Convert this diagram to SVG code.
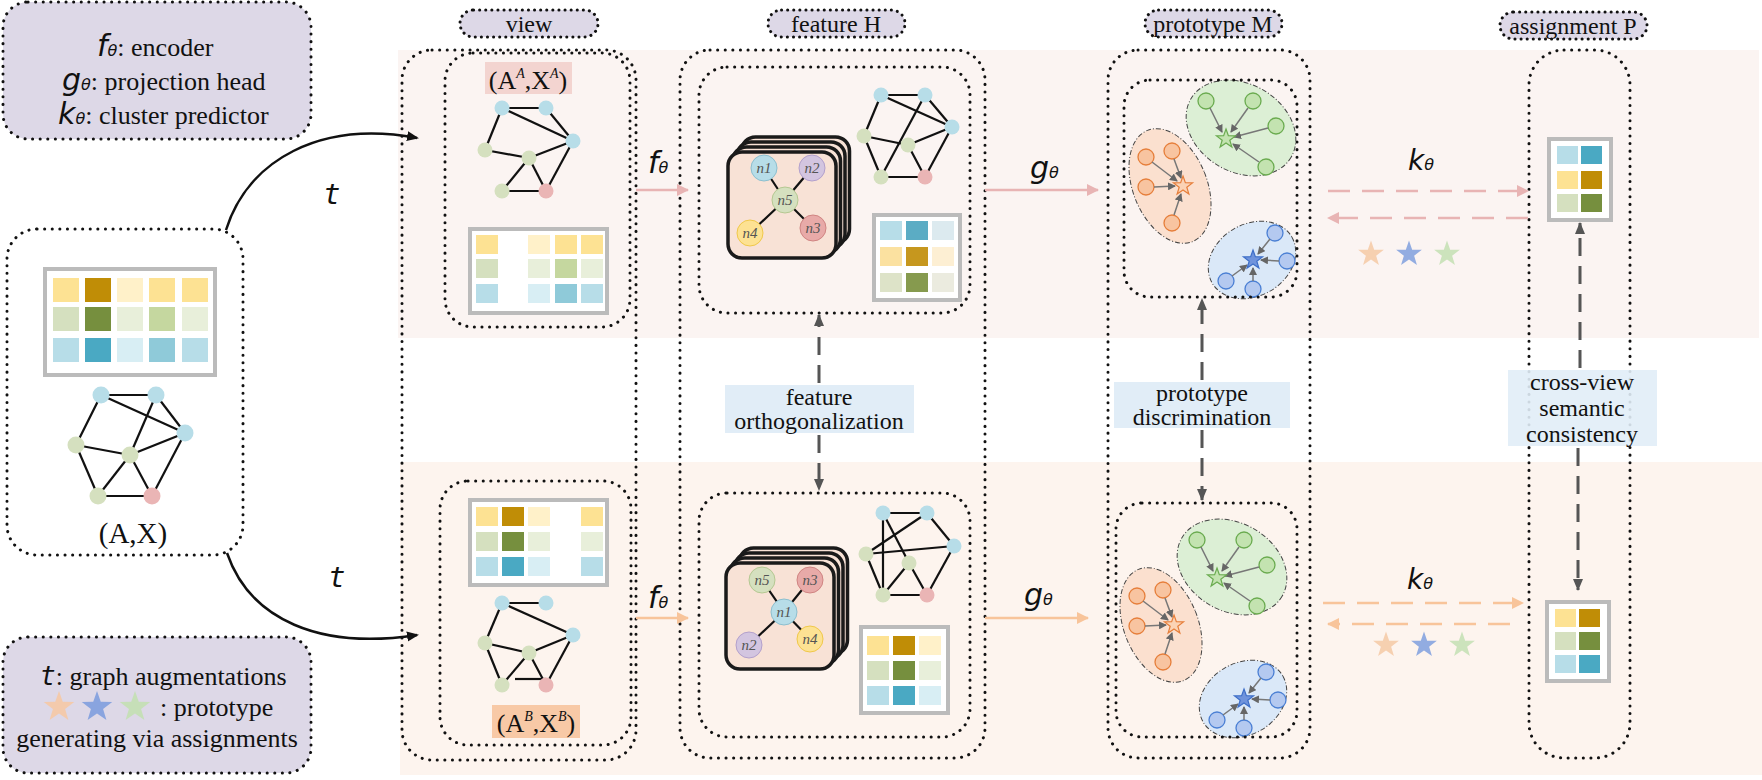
<svg xmlns="http://www.w3.org/2000/svg" xmlns:xlink="http://www.w3.org/1999/xlink" width="1762" height="780" viewBox="0 0 1762 780">
<style>
.dot{fill:none;stroke:#111;stroke-width:3;stroke-dasharray:0.1 7.5;stroke-linecap:round}
.pill{fill:#ddd8e7;stroke:#111;stroke-width:3;stroke-dasharray:0.1 6;stroke-linecap:round}
.leg{fill:#ddd8e7}
.tm{font-family:"Liberation Serif",serif;fill:#111}
.sy{font-family:"DejaVu Sans",sans-serif;font-style:italic;fill:#111}
.mono{font-family:"DejaVu Sans Mono",monospace;font-style:italic;fill:#111}
.ed{stroke:#111;stroke-width:2.2}
.nb{fill:#b7dde8}.ng{fill:#d5e0bf}.np{fill:#eab5b5}
.mx{fill:#fff;stroke:#bbb;stroke-width:4}
.card{fill:#f8e2d6;stroke:#1a1a1a;stroke-width:3.5}
.cn{font-family:"Liberation Serif",serif;font-style:italic;font-size:15px;fill:#555;text-anchor:middle}
.ga{stroke:#777;stroke-width:1.5;marker-end:url(#ag)}
.vd{stroke:#555;stroke-width:3;stroke-dasharray:18 10;fill:none}
.tb{fill:#e1edf7}
</style>
<defs>
<marker id="ag" markerWidth="8" markerHeight="8" refX="7" refY="4" orient="auto" markerUnits="userSpaceOnUse"><path d="M0,0 L8,4 L0,8 Z" fill="#666"/></marker>
<marker id="ap" markerWidth="12" markerHeight="12" refX="11" refY="6" orient="auto" markerUnits="userSpaceOnUse"><path d="M0,0 L12,6 L0,12 Z" fill="#e8b4b4"/></marker>
<marker id="ao" markerWidth="12" markerHeight="12" refX="11" refY="6" orient="auto" markerUnits="userSpaceOnUse"><path d="M0,0 L12,6 L0,12 Z" fill="#f8c49a"/></marker>
<marker id="ad" markerWidth="12" markerHeight="10" refX="11" refY="5" orient="auto" markerUnits="userSpaceOnUse"><path d="M0,0 L12,5 L0,10 Z" fill="#555"/></marker>
<marker id="ak" markerWidth="12" markerHeight="12" refX="10" refY="6" orient="auto" markerUnits="userSpaceOnUse"><path d="M0,1 L12,6 L0,11 Z" fill="#111"/></marker>
<path id="star" d="M0,-10 L2.35,-3.24 L9.51,-3.09 L3.80,1.24 L5.88,8.09 L0,4 L-5.88,8.09 L-3.80,1.24 L-9.51,-3.09 L-2.35,-3.24 Z"/>
<g id="clusters">
 <ellipse cx="1170" cy="186" rx="37" ry="60" transform="rotate(-22 1170 186)" fill="#fbe0cf" stroke="#444" stroke-width="1" stroke-dasharray="5 2 1 2"/>
 <ellipse cx="1241" cy="128" rx="58" ry="44" transform="rotate(30 1241 128)" fill="#dcefd5" stroke="#444" stroke-width="1" stroke-dasharray="5 2 1 2"/>
 <ellipse cx="1252" cy="260" rx="46" ry="36" transform="rotate(-30 1252 260)" fill="#dae8f8" stroke="#444" stroke-width="1" stroke-dasharray="5 2 1 2"/>
 <g fill="#f8c4a0" stroke="#e67e3a" stroke-width="1.3">
  <circle cx="1146" cy="157" r="8"/><circle cx="1172" cy="151" r="8"/><circle cx="1146" cy="187" r="8"/><circle cx="1172" cy="223" r="8"/>
 </g>
 <g fill="#c3e3b0" stroke="#6aab4f" stroke-width="1.3">
  <circle cx="1206" cy="101" r="8"/><circle cx="1253" cy="101" r="8"/><circle cx="1276" cy="126" r="8"/><circle cx="1266" cy="167" r="8"/>
 </g>
 <g fill="#b4c9f0" stroke="#4a7fd4" stroke-width="1.3">
  <circle cx="1275" cy="233" r="8"/><circle cx="1287" cy="261" r="8"/><circle cx="1226" cy="281" r="8"/><circle cx="1253" cy="289" r="8"/>
 </g>
 <line class="ga" x1="1152" y1="162" x2="1177" y2="181"/><line class="ga" x1="1174" y1="159" x2="1181" y2="178"/>
 <line class="ga" x1="1154" y1="187" x2="1175" y2="186"/><line class="ga" x1="1174" y1="215" x2="1181" y2="194"/>
 <line class="ga" x1="1210" y1="108" x2="1222" y2="132"/><line class="ga" x1="1248" y1="108" x2="1231" y2="132"/>
 <line class="ga" x1="1268" y1="128" x2="1234" y2="137"/><line class="ga" x1="1259" y1="162" x2="1233" y2="144"/>
 <line class="ga" x1="1270" y1="239" x2="1258" y2="254"/><line class="ga" x1="1279" y1="261" x2="1261" y2="260"/>
 <line class="ga" x1="1232" y1="276" x2="1247" y2="265"/><line class="ga" x1="1253" y1="281" x2="1253" y2="268"/>
 <use href="#star" transform="translate(1183 186)" fill="#fbd3b5" stroke="#e67e3a" stroke-width="1.2"/>
 <use href="#star" transform="translate(1226 139)" fill="#c3e3b0" stroke="#6aab4f" stroke-width="1.2"/>
 <use href="#star" transform="translate(1253 260)" fill="#6f93dc" stroke="#3d6ec8" stroke-width="1.2"/>
</g>
<g id="card">
 <rect x="13.5" y="-15" width="108" height="106" rx="14" class="card"/>
 <rect x="9" y="-10" width="108" height="106" rx="14" class="card"/>
 <rect x="4.5" y="-5" width="108" height="106" rx="14" class="card"/>
 <rect x="0" y="0" width="108" height="106" rx="14" class="card"/>
</g>
</defs>

<!-- bands -->
<rect x="398" y="50" width="1361" height="288" fill="#fbf4f2"/>
<rect x="400" y="462" width="1362" height="313" fill="#fdf4ee"/>

<!-- legends -->
<g id="legend-top">
 <rect x="3" y="2" width="308" height="137" rx="25" class="leg"/>
 <rect x="3" y="2" width="308" height="137" rx="25" class="dot"/>
 <text x="97" y="56" class="tm" font-size="26"><tspan class="sy" font-size="30">f</tspan><tspan class="sy" font-size="16">θ</tspan>:  encoder</text>
 <text x="62" y="90" class="tm" font-size="26"><tspan class="sy" font-size="30">g</tspan><tspan class="sy" font-size="16">θ</tspan>:  projection head</text>
 <text x="58" y="124" class="tm" font-size="26"><tspan class="sy" font-size="30">k</tspan><tspan class="sy" font-size="16">θ</tspan>:  cluster predictor</text>
</g>
<g id="legend-bottom">
 <rect x="3" y="637" width="308" height="136" rx="25" class="leg"/>
 <rect x="3" y="637" width="308" height="136" rx="25" class="dot"/>
 <text x="40" y="685" class="tm" font-size="26"><tspan class="mono" font-size="26">t</tspan>:  graph augmentations</text>
 <use href="#star" transform="translate(59 707) scale(1.6)" fill="#f5c9a5" opacity="0.9"/>
 <use href="#star" transform="translate(97 707) scale(1.6)" fill="#7f9fde" opacity="0.9"/>
 <use href="#star" transform="translate(135 707) scale(1.6)" fill="#c3e0b3" opacity="0.9"/>
 <text x="160" y="716" class="tm" font-size="26">: prototype</text>
 <text x="157" y="747" class="tm" font-size="26" text-anchor="middle">generating via assignments</text>
</g>

<!-- pills -->
<g id="pill-view"><rect x="460" y="10" width="138" height="27" rx="13.5" class="pill"/><text x="529" y="32" class="tm" font-size="24" text-anchor="middle">view</text></g>
<g id="pill-feature"><rect x="768" y="10" width="137" height="27" rx="13.5" class="pill"/><text x="836" y="32" class="tm" font-size="24" text-anchor="middle">feature H</text></g>
<g id="pill-proto"><rect x="1145" y="10" width="137" height="27" rx="13.5" class="pill"/><text x="1213" y="32" class="tm" font-size="24" text-anchor="middle">prototype M</text></g>
<g id="pill-assign"><rect x="1500" y="12" width="147" height="27" rx="13.5" class="pill"/><text x="1573" y="34" class="tm" font-size="24" text-anchor="middle">assignment P</text></g>

<!-- input graph -->
<g id="input-AX">
 <rect x="7" y="229" width="236" height="326" rx="30" class="dot"/>
 <rect x="45" y="269" width="170" height="106" class="mx"/>
 <g>
  <rect x="53" y="278" width="26" height="24" fill="#fde293"/><rect x="85" y="278" width="26" height="24" fill="#c08d06"/><rect x="117" y="278" width="26" height="24" fill="#fff1c9"/><rect x="149" y="278" width="26" height="24" fill="#fde293"/><rect x="182" y="278" width="26" height="24" fill="#fde293"/>
  <rect x="53" y="307" width="26" height="24" fill="#d5e0bf"/><rect x="85" y="307" width="26" height="24" fill="#768f3e"/><rect x="117" y="307" width="26" height="24" fill="#e8efda"/><rect x="149" y="307" width="26" height="24" fill="#c5d79f"/><rect x="182" y="307" width="26" height="24" fill="#e8efda"/>
  <rect x="53" y="338" width="26" height="24" fill="#b7dde8"/><rect x="85" y="338" width="26" height="24" fill="#4aa9c3"/><rect x="117" y="338" width="26" height="24" fill="#d8eef4"/><rect x="149" y="338" width="26" height="24" fill="#8fcad9"/><rect x="182" y="338" width="26" height="24" fill="#b7dde8"/>
 </g>
 <g class="ed">
  <line x1="101" y1="395" x2="156" y2="395"/><line x1="101" y1="395" x2="185" y2="433"/><line x1="156" y1="395" x2="130" y2="455"/><line x1="156" y1="395" x2="185" y2="433"/>
  <line x1="101" y1="395" x2="76" y2="445"/><line x1="76" y1="445" x2="130" y2="455"/><line x1="130" y1="455" x2="185" y2="433"/><line x1="76" y1="445" x2="98" y2="496"/>
  <line x1="130" y1="455" x2="98" y2="496"/><line x1="130" y1="455" x2="152" y2="496"/><line x1="98" y1="496" x2="152" y2="496"/><line x1="185" y1="433" x2="152" y2="496"/>
 </g>
 <circle cx="101" cy="395" r="8.5" class="nb"/><circle cx="156" cy="395" r="8.5" class="nb"/><circle cx="185" cy="433" r="8.5" class="nb"/>
 <circle cx="76" cy="445" r="8.5" class="ng"/><circle cx="130" cy="455" r="8.5" class="ng"/><circle cx="98" cy="496" r="8.5" class="ng"/><circle cx="152" cy="496" r="8.5" class="np"/>
 <text x="133" y="543" class="tm" font-size="29" text-anchor="middle">(A,X)</text>
</g>

<!-- view column -->
<g id="view">
 <rect x="402" y="50" width="234" height="710" rx="30" class="dot"/>
 <rect x="445" y="53" width="185" height="274" rx="28" class="dot"/>
 <rect x="485" y="62" width="87" height="32" fill="#f3d4d0"/>
 <text x="528" y="89" class="tm" font-size="26" text-anchor="middle">(A<tspan font-size="14" font-style="italic" dy="-11">A</tspan><tspan dy="11">,X</tspan><tspan font-size="14" font-style="italic" dy="-11">A</tspan><tspan dy="11">)</tspan></text>
 <g class="ed">
  <line x1="502" y1="108" x2="546" y2="108"/><line x1="502" y1="108" x2="573" y2="141"/><line x1="546" y1="108" x2="573" y2="141"/><line x1="502" y1="108" x2="485" y2="150"/>
  <line x1="485" y1="150" x2="529" y2="158"/><line x1="529" y1="158" x2="573" y2="141"/><line x1="529" y1="158" x2="502" y2="191"/><line x1="529" y1="158" x2="546" y2="191"/>
  <line x1="502" y1="191" x2="546" y2="191"/><line x1="573" y1="141" x2="546" y2="191"/>
 </g>
 <circle cx="502" cy="108" r="7.5" class="nb"/><circle cx="546" cy="108" r="7.5" class="nb"/><circle cx="573" cy="141" r="7.5" class="nb"/>
 <circle cx="485" cy="150" r="7.5" class="ng"/><circle cx="529" cy="158" r="7.5" class="ng"/><circle cx="502" cy="191" r="7.5" class="ng"/><circle cx="546" cy="191" r="7.5" class="np"/>
 <rect x="470" y="229" width="137" height="84" class="mx"/>
 <rect x="476" y="235" width="22" height="19" fill="#fde293"/><rect x="528" y="235" width="22" height="19" fill="#fff1c9"/><rect x="555" y="235" width="22" height="19" fill="#fde293"/><rect x="581" y="235" width="22" height="19" fill="#fde293"/>
 <rect x="476" y="259" width="22" height="19" fill="#d5e0bf"/><rect x="528" y="259" width="22" height="19" fill="#e8efda"/><rect x="555" y="259" width="22" height="19" fill="#c5d79f"/><rect x="581" y="259" width="22" height="19" fill="#e8efda"/>
 <rect x="476" y="284" width="22" height="19" fill="#b7dde8"/><rect x="528" y="284" width="22" height="19" fill="#d8eef4"/><rect x="555" y="284" width="22" height="19" fill="#8fcad9"/><rect x="581" y="284" width="22" height="19" fill="#b7dde8"/>

 <rect x="440" y="481" width="191" height="264" rx="28" class="dot"/>
 <rect x="470" y="500" width="137" height="85" class="mx"/>
 <rect x="476" y="507" width="22" height="19" fill="#fde293"/><rect x="502" y="507" width="22" height="19" fill="#c08d06"/><rect x="528" y="507" width="22" height="19" fill="#fff1c9"/><rect x="581" y="507" width="22" height="19" fill="#fde293"/>
 <rect x="476" y="532" width="22" height="19" fill="#d5e0bf"/><rect x="502" y="532" width="22" height="19" fill="#768f3e"/><rect x="528" y="532" width="22" height="19" fill="#e8efda"/><rect x="581" y="532" width="22" height="19" fill="#e8efda"/>
 <rect x="476" y="557" width="22" height="19" fill="#b7dde8"/><rect x="502" y="557" width="22" height="19" fill="#4aa9c3"/><rect x="528" y="557" width="22" height="19" fill="#d8eef4"/><rect x="581" y="557" width="22" height="19" fill="#b7dde8"/>
 <g class="ed">
  <line x1="502" y1="603" x2="546" y2="603"/><line x1="502" y1="603" x2="573" y2="635"/><line x1="502" y1="603" x2="485" y2="643"/><line x1="485" y1="643" x2="529" y2="653"/>
  <line x1="529" y1="653" x2="573" y2="635"/><line x1="529" y1="653" x2="502" y2="685"/><line x1="529" y1="653" x2="546" y2="685"/><line x1="485" y1="643" x2="502" y2="685"/>
  <line x1="573" y1="635" x2="546" y2="685"/><line x1="515" y1="679" x2="546" y2="679"/>
 </g>
 <circle cx="502" cy="603" r="7.5" class="nb"/><circle cx="546" cy="603" r="7.5" class="nb"/><circle cx="573" cy="635" r="7.5" class="nb"/>
 <circle cx="485" cy="643" r="7.5" class="ng"/><circle cx="529" cy="653" r="7.5" class="ng"/><circle cx="502" cy="685" r="7.5" class="ng"/><circle cx="546" cy="685" r="7.5" class="np"/>
 <rect x="492" y="705" width="88" height="33" fill="#f8c9a6"/>
 <text x="536" y="732" class="tm" font-size="26" text-anchor="middle">(A<tspan font-size="14" font-style="italic" dy="-11">B</tspan><tspan dy="11">,X</tspan><tspan font-size="14" font-style="italic" dy="-11">B</tspan><tspan dy="11">)</tspan></text>
</g>

<!-- feature column -->
<g id="feature">
 <rect x="680" y="50" width="305" height="708" rx="30" class="dot"/>
 <rect x="699" y="67" width="271" height="246" rx="28" class="dot"/>
 <use href="#card" transform="translate(728 152)"/>
 <g class="ed"><line x1="785" y1="200" x2="764" y2="168"/><line x1="785" y1="200" x2="812" y2="168"/><line x1="785" y1="200" x2="750" y2="233"/><line x1="785" y1="200" x2="813" y2="228"/></g>
 <circle cx="764" cy="168" r="13" fill="#b7dde8" stroke="#8cbfcf"/><text x="764" y="173" class="cn">n1</text>
 <circle cx="812" cy="168" r="13" fill="#d3c5e0" stroke="#b3a0cc"/><text x="812" y="173" class="cn">n2</text>
 <circle cx="785" cy="200" r="13" fill="#d5e0bf" stroke="#b5c892"/><text x="785" y="205" class="cn">n5</text>
 <circle cx="750" cy="233" r="13" fill="#fde293" stroke="#f0c84a"/><text x="750" y="238" class="cn">n4</text>
 <circle cx="813" cy="228" r="13" fill="#e8aaa8" stroke="#d08482"/><text x="813" y="233" class="cn">n3</text>
 <g class="ed">
  <line x1="881" y1="95" x2="925" y2="95"/><line x1="881" y1="95" x2="952" y2="127"/><line x1="925" y1="95" x2="881" y2="177"/><line x1="925" y1="95" x2="952" y2="127"/>
  <line x1="881" y1="95" x2="864" y2="136"/><line x1="864" y1="136" x2="908" y2="145"/><line x1="908" y1="145" x2="952" y2="127"/><line x1="864" y1="136" x2="881" y2="177"/>
  <line x1="908" y1="145" x2="925" y2="177"/><line x1="881" y1="177" x2="925" y2="177"/><line x1="952" y1="127" x2="925" y2="177"/>
 </g>
 <circle cx="881" cy="95" r="7.5" class="nb"/><circle cx="925" cy="95" r="7.5" class="nb"/><circle cx="952" cy="127" r="7.5" class="nb"/>
 <circle cx="864" cy="136" r="7.5" class="ng"/><circle cx="908" cy="145" r="7.5" class="ng"/><circle cx="881" cy="177" r="7.5" class="ng"/><circle cx="925" cy="177" r="7.5" class="np"/>
 <rect x="874" y="215" width="86" height="85" class="mx"/>
 <rect x="880" y="221" width="22" height="19" fill="#b7dde8"/><rect x="906" y="221" width="22" height="19" fill="#5bacc4"/><rect x="932" y="221" width="22" height="19" fill="#dceaef"/>
 <rect x="880" y="247" width="22" height="19" fill="#fbe1a0"/><rect x="906" y="247" width="22" height="19" fill="#c6971e"/><rect x="932" y="247" width="22" height="19" fill="#fdefd3"/>
 <rect x="880" y="273" width="22" height="19" fill="#dde3c8"/><rect x="906" y="273" width="22" height="19" fill="#869a4e"/><rect x="932" y="273" width="22" height="19" fill="#ebebdf"/>

 <rect x="699" y="493" width="271" height="244" rx="28" class="dot"/>
 <use href="#card" transform="translate(726 563)"/>
 <g class="ed"><line x1="784" y1="612" x2="762" y2="580"/><line x1="784" y1="612" x2="810" y2="580"/><line x1="784" y1="612" x2="749" y2="645"/><line x1="784" y1="612" x2="810" y2="639"/></g>
 <circle cx="762" cy="580" r="13" fill="#d5e0bf" stroke="#b5c892"/><text x="762" y="585" class="cn">n5</text>
 <circle cx="810" cy="580" r="13" fill="#e8aaa8" stroke="#d08482"/><text x="810" y="585" class="cn">n3</text>
 <circle cx="784" cy="612" r="13" fill="#b7dde8" stroke="#8cbfcf"/><text x="784" y="617" class="cn">n1</text>
 <circle cx="749" cy="645" r="13" fill="#d3c5e0" stroke="#b3a0cc"/><text x="749" y="650" class="cn">n2</text>
 <circle cx="810" cy="639" r="13" fill="#fde293" stroke="#f0c84a"/><text x="810" y="644" class="cn">n4</text>
 <g class="ed">
  <line x1="883" y1="513" x2="927" y2="513"/><line x1="927" y1="513" x2="954" y2="546"/><line x1="866" y1="554" x2="927" y2="513"/><line x1="866" y1="554" x2="954" y2="546"/>
  <line x1="883" y1="513" x2="883" y2="595"/><line x1="883" y1="513" x2="909" y2="563"/><line x1="866" y1="554" x2="883" y2="595"/><line x1="909" y1="563" x2="883" y2="595"/>
  <line x1="909" y1="563" x2="927" y2="595"/><line x1="883" y1="595" x2="927" y2="595"/><line x1="954" y1="546" x2="927" y2="595"/>
 </g>
 <circle cx="883" cy="513" r="7.5" class="nb"/><circle cx="927" cy="513" r="7.5" class="nb"/><circle cx="954" cy="546" r="7.5" class="nb"/>
 <circle cx="866" cy="554" r="7.5" class="ng"/><circle cx="909" cy="563" r="7.5" class="ng"/><circle cx="883" cy="595" r="7.5" class="ng"/><circle cx="927" cy="595" r="7.5" class="np"/>
 <rect x="861" y="627" width="87" height="86" class="mx"/>
 <rect x="867" y="636" width="22" height="19" fill="#fde293"/><rect x="893" y="636" width="22" height="19" fill="#c08d06"/><rect x="919" y="636" width="22" height="19" fill="#fff1c9"/>
 <rect x="867" y="661" width="22" height="19" fill="#d5e0bf"/><rect x="893" y="661" width="22" height="19" fill="#768f3e"/><rect x="919" y="661" width="22" height="19" fill="#e8efda"/>
 <rect x="867" y="686" width="22" height="19" fill="#b7dde8"/><rect x="893" y="686" width="22" height="19" fill="#4aa9c3"/><rect x="919" y="686" width="22" height="19" fill="#d8eef4"/>
</g>

<!-- prototype column -->
<g id="prototype">
 <rect x="1108" y="50" width="202" height="708" rx="30" class="dot"/>
 <use href="#clusters"/>
 <use href="#clusters" transform="translate(-9 439)"/>
 <rect x="1124" y="80" width="173" height="217" rx="26" class="dot"/>
 <rect x="1116" y="503" width="181" height="234" rx="26" class="dot"/>
</g>

<!-- assignment column -->
<g id="assignment">
 <rect x="1529" y="50" width="101" height="708" rx="35" class="dot"/>
 <rect x="1549" y="139" width="62" height="81" class="mx"/>
 <rect x="1557" y="146" width="21" height="18" fill="#b7dde8"/><rect x="1581" y="146" width="21" height="18" fill="#4aa9c3"/>
 <rect x="1557" y="171" width="21" height="18" fill="#fde293"/><rect x="1581" y="171" width="21" height="18" fill="#c08d06"/>
 <rect x="1557" y="194" width="21" height="18" fill="#d5e0bf"/><rect x="1581" y="194" width="21" height="18" fill="#768f3e"/>
 <rect x="1547" y="602" width="62" height="79" class="mx"/>
 <rect x="1555" y="609" width="21" height="18" fill="#fde293"/><rect x="1579" y="609" width="21" height="18" fill="#c08d06"/>
 <rect x="1555" y="632" width="21" height="18" fill="#d5e0bf"/><rect x="1579" y="632" width="21" height="18" fill="#768f3e"/>
 <rect x="1555" y="655" width="21" height="18" fill="#b7dde8"/><rect x="1579" y="655" width="21" height="18" fill="#4aa9c3"/>
</g>

<!-- text boxes -->
<g id="box-orth"><rect x="725" y="385" width="189" height="48" class="tb"/>
 <text x="819" y="405" class="tm" font-size="24" text-anchor="middle">feature</text><text x="819" y="429" class="tm" font-size="24" text-anchor="middle">orthogonalization</text></g>
<g id="box-disc"><rect x="1114" y="382" width="176" height="46" class="tb"/>
 <text x="1202" y="401" class="tm" font-size="24" text-anchor="middle">prototype</text><text x="1202" y="425" class="tm" font-size="24" text-anchor="middle">discrimination</text></g>
<g id="box-cross"><rect x="1508" y="370" width="149" height="76" class="tb" opacity="0.9"/>
 <text x="1582" y="390" class="tm" font-size="24" text-anchor="middle">cross-view</text><text x="1582" y="416" class="tm" font-size="24" text-anchor="middle">semantic</text><text x="1582" y="442" class="tm" font-size="24" text-anchor="middle">consistency</text></g>

<!-- connectors -->
<g id="connectors">
 <path d="M226,230 C248,160 320,120 417,138" fill="none" stroke="#111" stroke-width="2.5" marker-end="url(#ak)"/>
 <path d="M227,553 C250,620 320,650 417,635" fill="none" stroke="#111" stroke-width="2.5" marker-end="url(#ak)"/>
 <text x="332" y="204" class="mono" font-size="28" text-anchor="middle">t</text>
 <text x="337" y="587" class="mono" font-size="28" text-anchor="middle">t</text>

 <line x1="636" y1="190" x2="688" y2="190" stroke="#e8b4b4" stroke-width="2.5" marker-end="url(#ap)"/>
 <line x1="636" y1="618" x2="688" y2="618" stroke="#f8c49a" stroke-width="2.5" marker-end="url(#ao)"/>
 <text x="648" y="173" class="sy" font-size="30">f<tspan font-size="16">θ</tspan></text>
 <text x="648" y="608" class="sy" font-size="30">f<tspan font-size="16">θ</tspan></text>
 <line x1="985" y1="190" x2="1098" y2="190" stroke="#e8b4b4" stroke-width="2.5" marker-end="url(#ap)"/>
 <line x1="985" y1="618" x2="1088" y2="618" stroke="#f8c49a" stroke-width="2.5" marker-end="url(#ao)"/>
 <text x="1030" y="178" class="sy" font-size="30">g<tspan font-size="16">θ</tspan></text>
 <text x="1024" y="605" class="sy" font-size="30">g<tspan font-size="16">θ</tspan></text>

 <line x1="1328" y1="191" x2="1528" y2="191" stroke="#e8b4b4" stroke-width="2.5" stroke-dasharray="22 12" marker-end="url(#ap)"/>
 <line x1="1528" y1="218" x2="1328" y2="218" stroke="#e8b4b4" stroke-width="2.5" stroke-dasharray="22 12" marker-end="url(#ap)"/>
 <text x="1408" y="170" class="sy" font-size="28">k<tspan font-size="16">θ</tspan></text>
 <line x1="1323" y1="603" x2="1523" y2="603" stroke="#f8c49a" stroke-width="2.5" stroke-dasharray="22 12" marker-end="url(#ao)"/>
 <line x1="1510" y1="624" x2="1328" y2="624" stroke="#f8c49a" stroke-width="2.5" stroke-dasharray="22 12" marker-end="url(#ao)"/>
 <text x="1407" y="589" class="sy" font-size="28">k<tspan font-size="16">θ</tspan></text>
 <g opacity="0.85">
  <use href="#star" transform="translate(1371 254) scale(1.35)" fill="#f5c9a5"/><use href="#star" transform="translate(1409 254) scale(1.35)" fill="#7f9fde"/><use href="#star" transform="translate(1447 254) scale(1.35)" fill="#c3e0b3"/>
  <use href="#star" transform="translate(1386 645) scale(1.35)" fill="#f5c9a5"/><use href="#star" transform="translate(1424 645) scale(1.35)" fill="#7f9fde"/><use href="#star" transform="translate(1462 645) scale(1.35)" fill="#c3e0b3"/>
 </g>

 <line x1="819" y1="383" x2="819" y2="315" class="vd" marker-end="url(#ad)"/>
 <line x1="819" y1="435" x2="819" y2="490" class="vd" marker-end="url(#ad)"/>
 <line x1="1202" y1="380" x2="1202" y2="299" class="vd" marker-end="url(#ad)"/>
 <line x1="1202" y1="430" x2="1202" y2="500" class="vd" marker-end="url(#ad)"/>
 <line x1="1580" y1="368" x2="1580" y2="223" class="vd" marker-end="url(#ad)"/>
 <line x1="1578" y1="448" x2="1578" y2="590" class="vd" marker-end="url(#ad)"/>
</g>
</svg>
